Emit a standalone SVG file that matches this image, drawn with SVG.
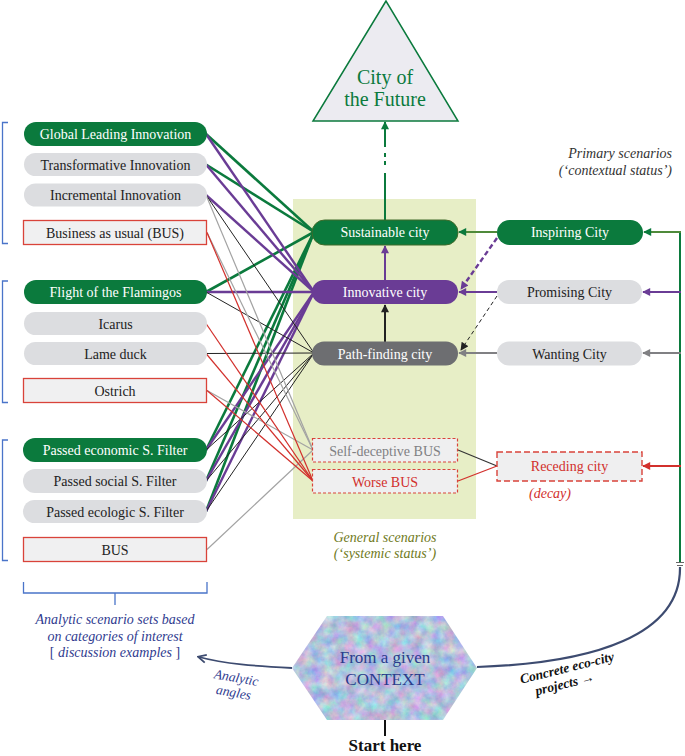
<svg xmlns="http://www.w3.org/2000/svg" width="685" height="756" viewBox="0 0 685 756" font-family="'Liberation Serif', Tinos, 'Times New Roman', 'DejaVu Serif', serif">
<style>
text{font-family:'Liberation Serif',Tinos,'Times New Roman','DejaVu Serif',serif;font-size:14px;text-anchor:middle}
.wt{fill:#ffffff}
.dk{fill:#222222}
.pg{fill:#0b7a3d}
.pp{fill:#6a3c95}
.pd{fill:#6d6e71}
.pl{fill:#dcdde0}
.rb{fill:#f0f0f1;stroke:#d9433a;stroke-width:1.3}
.db{fill:#efeff0;stroke:#d9433a;stroke-width:1.2;stroke-dasharray:3,2}
.dbr{fill:#efeff0;stroke:#d9433a;stroke-width:1.4;stroke-dasharray:6,3}
.wg{stroke:#0b7a3d;stroke-width:2.6;fill:none}
.wp{stroke:#6a3c95;stroke-width:2.4;fill:none}
.wk{stroke:#222222;stroke-width:1;fill:none}
.wy{stroke:#a3a3a3;stroke-width:1.2;fill:none}
.wr{stroke:#d2302c;stroke-width:1.2;fill:none}
.it{font-style:italic}
.br{stroke:#4a74c9;stroke-width:1.3;fill:none}
</style>
<defs>
<marker id="aG" viewBox="0 0 10 10" refX="9" refY="5" markerWidth="10" markerHeight="8" markerUnits="userSpaceOnUse" orient="auto"><path d="M0,0 L10,5 L0,10 z" fill="#0b7a3d"/></marker>
<marker id="aP" viewBox="0 0 10 10" refX="9" refY="5" markerWidth="10" markerHeight="8" markerUnits="userSpaceOnUse" orient="auto"><path d="M0,0 L10,5 L0,10 z" fill="#6a3c95"/></marker>
<marker id="aK" viewBox="0 0 10 10" refX="9" refY="5" markerWidth="9" markerHeight="8" markerUnits="userSpaceOnUse" orient="auto"><path d="M0,0 L10,5 L0,10 z" fill="#222222"/></marker>
<marker id="aY" viewBox="0 0 10 10" refX="9" refY="5" markerWidth="10" markerHeight="8" markerUnits="userSpaceOnUse" orient="auto"><path d="M0,0 L10,5 L0,10 z" fill="#808083"/></marker>
<marker id="aR" viewBox="0 0 10 10" refX="9" refY="5" markerWidth="10" markerHeight="8" markerUnits="userSpaceOnUse" orient="auto"><path d="M0,0 L10,5 L0,10 z" fill="#d2302c"/></marker>
<marker id="aN" viewBox="0 0 10 10" refX="8" refY="5" markerWidth="10" markerHeight="10" markerUnits="userSpaceOnUse" orient="auto"><path d="M1,1 L9,5 L1,9" fill="none" stroke="#3d4b70" stroke-width="1.8"/></marker>
<filter id="marble" x="0" y="0" width="1" height="1" color-interpolation-filters="sRGB">
<feTurbulence type="fractalNoise" baseFrequency="0.09" numOctaves="4" seed="7" result="n"/>
<feColorMatrix in="n" type="matrix" values="0.55 0 0 0 0.43  0 0.45 0 0 0.53  0 0 0.25 0 0.74  0 0 0 0 1" result="c"/>
<feComposite in="c" in2="SourceGraphic" operator="in"/>
</filter>
</defs>
<rect width="685" height="756" fill="#ffffff"/>

<rect id="general-panel" x="293" y="199" width="183" height="320" fill="#e7eec6"/>

<g id="connectors">
<line class="wg" x1="206" y1="134" x2="314" y2="232"/>
<line class="wg" x1="206" y1="164.5" x2="314" y2="232"/>
<line class="wg" x1="206" y1="292" x2="314" y2="232"/>
<line class="wg" x1="206" y1="450" x2="314" y2="232"/>
<line class="wg" x1="206" y1="481" x2="314" y2="232"/>
<line class="wg" x1="206" y1="511.5" x2="314" y2="232"/>
<line class="wp" x1="206" y1="134" x2="314" y2="292"/>
<line class="wp" x1="206" y1="164.5" x2="314" y2="292"/>
<line class="wp" x1="206" y1="195" x2="314" y2="292"/>
<line class="wp" x1="206" y1="292" x2="314" y2="292"/>
<line class="wp" x1="206" y1="450" x2="314" y2="292"/>
<line class="wp" x1="206" y1="481" x2="314" y2="292"/>
<line class="wp" x1="206" y1="511.5" x2="314" y2="292"/>
<line class="wk" x1="206" y1="195" x2="314" y2="353"/>
<line class="wk" x1="206" y1="292" x2="314" y2="353"/>
<line class="wk" x1="206" y1="353.5" x2="314" y2="353"/>
<line class="wk" x1="206" y1="450" x2="314" y2="353"/>
<line class="wk" x1="206" y1="481" x2="314" y2="353"/>
<line class="wk" x1="206" y1="511.5" x2="314" y2="353"/>
<line class="wy" x1="206" y1="195" x2="313" y2="450"/>
<line class="wy" x1="207" y1="232.5" x2="313" y2="450"/>
<line class="wy" x1="207" y1="390.5" x2="313" y2="450"/>
<line class="wy" x1="207" y1="549.5" x2="313" y2="450"/>
<line class="wr" x1="207" y1="232.5" x2="313" y2="481"/>
<line class="wr" x1="206" y1="323.5" x2="313" y2="481"/>
<line class="wr" x1="206" y1="353.5" x2="313" y2="481"/>
<line class="wr" x1="207" y1="390.5" x2="313" y2="481"/>

<line x1="385" y1="342" x2="385" y2="305" stroke="#222222" stroke-width="2" marker-end="url(#aK)"/>
<line x1="385" y1="280" x2="385" y2="246" stroke="#6a3c95" stroke-width="2" marker-end="url(#aP)"/>
<line x1="385" y1="220" x2="385" y2="173" stroke="#0b7a3d" stroke-width="2"/>
<line x1="385" y1="165" x2="385" y2="161" stroke="#0b7a3d" stroke-width="2"/>
<line x1="385" y1="157" x2="385" y2="153" stroke="#0b7a3d" stroke-width="2"/>
<line x1="385" y1="147" x2="385" y2="122" stroke="#0b7a3d" stroke-width="2" marker-end="url(#aG)"/>

<line x1="497" y1="232" x2="459" y2="232" stroke="#4f8a3a" stroke-width="2" marker-end="url(#aG)"/>
<line x1="497" y1="292" x2="459" y2="292" stroke="#6a3c95" stroke-width="2" marker-end="url(#aP)"/>
<line x1="497" y1="353" x2="459" y2="353" stroke="#808083" stroke-width="2" marker-end="url(#aY)"/>
<line x1="497" y1="238" x2="461" y2="289" stroke="#6a3c95" stroke-width="2.4" stroke-dasharray="5,3" marker-end="url(#aP)"/>
<line x1="497" y1="296" x2="461" y2="350" stroke="#222222" stroke-width="1" stroke-dasharray="4,3" marker-end="url(#aK)"/>
<line x1="458" y1="450" x2="497" y2="466" stroke="#333333" stroke-width="1.3"/>
<line x1="458" y1="481" x2="497" y2="466" stroke="#d2302c" stroke-width="1.3"/>

<line x1="680" y1="231" x2="680" y2="562" stroke="#0b7a3d" stroke-width="2"/>
<line x1="681" y1="232" x2="644" y2="232" stroke="#4f8a3a" stroke-width="1.8" marker-end="url(#aG)"/>
<line x1="681" y1="292" x2="643" y2="292" stroke="#6a3c95" stroke-width="1.8" marker-end="url(#aP)"/>
<line x1="681" y1="353" x2="643" y2="353" stroke="#808083" stroke-width="1.8" marker-end="url(#aY)"/>
<line x1="681" y1="466" x2="643" y2="466" stroke="#d2302c" stroke-width="1.8" marker-end="url(#aR)"/>
<line x1="676" y1="562.5" x2="684" y2="562.5" stroke="#666666" stroke-width="1"/>
<line x1="677" y1="565.5" x2="683" y2="565.5" stroke="#666666" stroke-width="1"/>

<path d="M477,667 C595,663 681,635 680,567" stroke="#3d4b70" stroke-width="2.2" fill="none"/>
<path d="M292,668 C255,666 225,664 199,657" stroke="#3d4b70" stroke-width="1.8" fill="none" marker-end="url(#aN)"/>
<line x1="385" y1="736" x2="385" y2="703" stroke="#111111" stroke-width="2" marker-end="url(#aK)"/>
</g>

<g id="brackets">
<path class="br" d="M8,122.5 H2.5 V243.5 H8"/>
<path class="br" d="M8,281 H2.5 V402.5 H8"/>
<path class="br" d="M8,440 H2.5 V560.5 H8"/>
<path class="br" d="M23.5,582 V593 H207 V582 M115,593 V605"/>
</g>

<g id="city-of-future">
<polygon points="386,1 313,121 458,121" fill="#ecebf1" stroke="#0b7a3d" stroke-width="1.5"/>
<text x="385" y="84" class="pg" style="font-size:20px">City of</text>
<text x="385" y="106" class="pg" style="font-size:20px">the Future</text>
</g>

<g id="global-leading"><rect x="24" y="122" width="183" height="24" rx="12" class="pg"/><text x="115.5" y="139" class="wt">Global Leading Innovation</text></g>
<g id="transformative"><rect x="24" y="153" width="183" height="23" rx="11.5" class="pl"/><text x="115.5" y="169.5" class="dk">Transformative Innovation</text></g>
<g id="incremental"><rect x="24" y="183.5" width="183" height="23" rx="11.5" class="pl"/><text x="115.5" y="200" class="dk">Incremental Innovation</text></g>
<g id="bus-usual"><rect x="23.5" y="220.5" width="183" height="24" class="rb"/><text x="115" y="237.5" class="dk">Business as usual (BUS)</text></g>

<g id="flamingos"><rect x="24" y="280" width="183" height="24" rx="12" class="pg"/><text x="115.5" y="297" class="wt">Flight of the Flamingos</text></g>
<g id="icarus"><rect x="24" y="312" width="183" height="23" rx="11.5" class="pl"/><text x="115.5" y="328.5" class="dk">Icarus</text></g>
<g id="lame-duck"><rect x="24" y="342" width="183" height="23" rx="11.5" class="pl"/><text x="115.5" y="358.5" class="dk">Lame duck</text></g>
<g id="ostrich"><rect x="23.5" y="378.5" width="183" height="24" class="rb"/><text x="115" y="395.5" class="dk">Ostrich</text></g>

<g id="passed-economic"><rect x="23" y="438" width="184" height="24" rx="12" class="pg"/><text x="115" y="455" class="wt">Passed economic S. Filter</text></g>
<g id="passed-social"><rect x="23" y="469" width="184" height="24" rx="12" class="pl"/><text x="115" y="486" class="dk">Passed social S. Filter</text></g>
<g id="passed-ecologic"><rect x="23" y="500" width="184" height="23" rx="11.5" class="pl"/><text x="115" y="516.5" class="dk">Passed ecologic S. Filter</text></g>
<g id="bus"><rect x="23.5" y="537.5" width="183" height="24" class="rb"/><text x="115" y="554.5" class="dk">BUS</text></g>

<g id="sustainable"><rect x="312" y="220" width="146" height="25" rx="12.5" class="pg" stroke="#3f6b2a" stroke-width="1"/><text x="385" y="237" class="wt">Sustainable city</text></g>
<g id="innovative"><rect x="312" y="280" width="146" height="24" rx="12" class="pp"/><text x="385" y="297" class="wt">Innovative city</text></g>
<g id="path-finding"><rect x="312" y="341.5" width="146" height="24" rx="12" class="pd"/><text x="385" y="358.5" class="wt">Path-finding city</text></g>
<g id="self-deceptive"><rect x="312.5" y="438.5" width="145" height="23.5" class="db"/><text x="385" y="455.5" style="fill:#808083">Self-deceptive BUS</text></g>
<g id="worse-bus"><rect x="312.5" y="469.5" width="145" height="23.5" class="db"/><text x="385" y="486.5" style="fill:#d2302c">Worse BUS</text></g>

<g id="inspiring"><rect x="497" y="220" width="146" height="25" rx="12.5" class="pg"/><text x="570" y="237" class="wt">Inspiring City</text></g>
<g id="promising"><rect x="497" y="280" width="145" height="24" rx="12" class="pl"/><text x="569.5" y="297" class="dk">Promising City</text></g>
<g id="wanting"><rect x="497" y="341.5" width="145" height="24" rx="12" class="pl"/><text x="569.5" y="358.5" class="dk">Wanting City</text></g>
<g id="receding"><rect x="497" y="452" width="145" height="29" class="dbr"/><text x="569.5" y="471" style="fill:#d2302c">Receding city</text></g>

<g id="context">
<polygon points="292,668 327,616 443,616 477,668 443,720 327,720" fill="#b8c7e6" filter="url(#marble)"/>
<text x="385" y="663" style="fill:#2b3c8c;font-size:17px">From a given</text>
<text x="385" y="685" style="fill:#2b3c8c;font-size:17px">CONTEXT</text>
</g>

<g id="labels">
<text x="672" y="158" class="it" style="text-anchor:end;fill:#333333">Primary scenarios</text>
<text x="672" y="175" class="it" style="text-anchor:end;fill:#333333">(‘contextual status’)</text>
<text x="385" y="542" class="it" style="fill:#6f7a22">General scenarios</text>
<text x="385" y="558" class="it" style="fill:#6f7a22">(‘systemic status’)</text>
<text x="550" y="498" class="it" style="fill:#d2302c">(decay)</text>
<text x="115" y="624" class="it" style="fill:#2f3b8f">Analytic scenario sets based</text>
<text x="115" y="641" class="it" style="fill:#2f3b8f">on categories of interest</text>
<text x="115" y="657" style="fill:#2f3b8f">[ <tspan class="it">discussion examples</tspan> ]</text>
<g transform="translate(235,685) rotate(10)">
<text x="0" y="-3" class="it" style="fill:#2f3b8f;font-size:13.5px">Analytic</text>
<text x="0" y="12" class="it" style="fill:#2f3b8f;font-size:13.5px">angles</text>
</g>
<g transform="translate(569,676) rotate(-14)">
<text x="0" y="-4" class="it" style="fill:#111111;font-weight:bold;font-size:13.5px">Concrete eco-city</text>
<text x="-6" y="11" class="it" style="fill:#111111;font-weight:bold;font-size:13.5px">projects →</text>
</g>
<text x="385" y="751" style="fill:#111111;font-weight:bold;font-size:17px">Start here</text>
</g>
</svg>
